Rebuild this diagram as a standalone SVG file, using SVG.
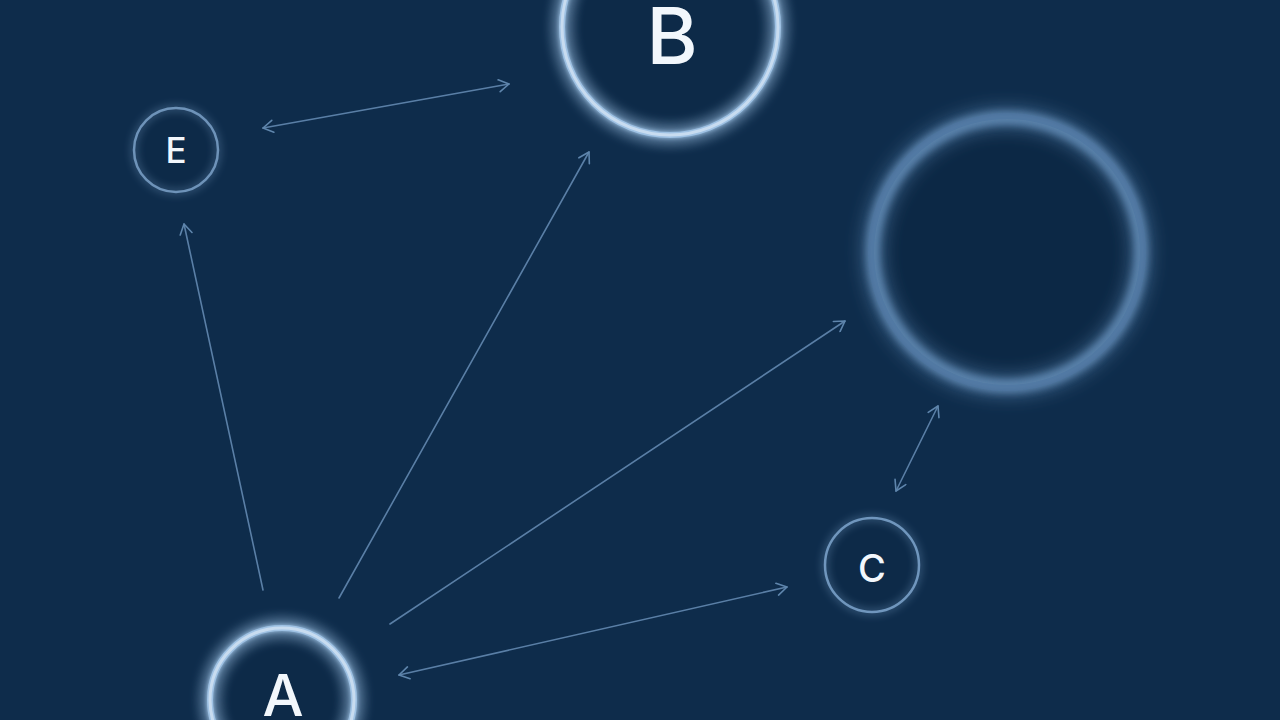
<svg xmlns="http://www.w3.org/2000/svg" width="1280" height="720" viewBox="0 0 1280 720">
<defs>
<style>
.conn{fill:none;stroke:#5a7fa6;stroke-width:1.6;stroke-linecap:round}
.lbl{font-family:Inter,"Liberation Sans","DejaVu Sans",sans-serif;font-weight:500;fill:#f2f7fc;text-anchor:middle}
.fill{fill:#0d2a48}
</style>
<marker id="ah" viewBox="0 0 14 14" refX="12" refY="7" markerWidth="14" markerHeight="14" markerUnits="userSpaceOnUse" orient="auto-start-reverse">
<path d="M2,1 L12,7 L2,13" fill="none" stroke="#5f86ad" stroke-width="1.6" stroke-linecap="round" stroke-linejoin="round"/>
</marker>
<filter id="glowBig" x="-40%" y="-40%" width="180%" height="180%">
<feGaussianBlur in="SourceGraphic" stdDeviation="8" result="b1"/>
<feGaussianBlur in="SourceGraphic" stdDeviation="2" result="b2"/>
<feMerge><feMergeNode in="b1"/><feMergeNode in="b1"/><feMergeNode in="b2"/><feMergeNode in="SourceGraphic"/></feMerge>
</filter>
<filter id="glowSoft" x="-40%" y="-40%" width="180%" height="180%">
<feGaussianBlur in="SourceGraphic" stdDeviation="10" result="b1"/>
<feGaussianBlur in="SourceGraphic" stdDeviation="3.5" result="b2"/>
<feMerge><feMergeNode in="b1"/><feMergeNode in="b2"/></feMerge>
</filter>
<filter id="glowSmall" x="-40%" y="-40%" width="180%" height="180%">
<feGaussianBlur in="SourceGraphic" stdDeviation="4" result="b1"/>
<feMerge><feMergeNode in="b1"/><feMergeNode in="SourceGraphic"/></feMerge>
</filter>
</defs>
<rect width="1280" height="720" fill="#0e2c4b"/>

<g id="connectors">
<line class="conn" x1="263" y1="128" x2="509" y2="84" marker-start="url(#ah)" marker-end="url(#ah)"/>
<line class="conn" x1="263" y1="590" x2="184" y2="224" marker-end="url(#ah)"/>
<line class="conn" x1="339" y1="598" x2="589" y2="152" marker-end="url(#ah)"/>
<line class="conn" x1="390" y1="624" x2="845" y2="321" marker-end="url(#ah)"/>
<line class="conn" x1="399" y1="675" x2="787" y2="587" marker-start="url(#ah)" marker-end="url(#ah)"/>
<line class="conn" x1="896" y1="491" x2="938" y2="406" marker-start="url(#ah)" marker-end="url(#ah)"/>
</g>

<g id="node-B">
<circle class="fill" cx="670" cy="27" r="108"/>
<circle cx="670" cy="27" r="108" fill="none" stroke="#9fc2e4" stroke-width="6" filter="url(#glowBig)"/>
<circle cx="670" cy="27" r="108" fill="none" stroke="#c8dcf0" stroke-width="3"/>
<text class="lbl" x="672" y="64" font-size="78">B</text>
</g>

<g id="node-E">
<circle class="fill" cx="176" cy="150" r="42"/>
<circle cx="176" cy="150" r="42" fill="none" stroke="#6e93b9" stroke-width="2.5" filter="url(#glowSmall)"/>
<text class="lbl" x="176" y="163" font-size="35">E</text>
</g>

<g id="node-D">
<circle cx="1007" cy="252" r="134" fill="#0c2845"/>
<circle cx="1007" cy="252" r="134" fill="none" stroke="#5a82ab" stroke-width="13" filter="url(#glowSoft)"/>
<circle cx="1007" cy="252" r="136" fill="none" stroke="#4e75a0" stroke-width="6" opacity="0.55"/>
</g>

<g id="node-C">
<circle class="fill" cx="872" cy="565" r="47"/>
<circle cx="872" cy="565" r="47" fill="none" stroke="#6f96bd" stroke-width="2.5" filter="url(#glowSmall)"/>
<text class="lbl" x="872" y="582" font-size="38">C</text>
</g>

<g id="node-A">
<circle class="fill" cx="282" cy="700" r="72"/>
<circle cx="282" cy="700" r="72" fill="none" stroke="#9fc2e4" stroke-width="6" filter="url(#glowBig)"/>
<circle cx="282" cy="700" r="72" fill="none" stroke="#c8dcf0" stroke-width="3"/>
<text class="lbl" x="283" y="716" font-size="58">A</text>
</g>
</svg>
